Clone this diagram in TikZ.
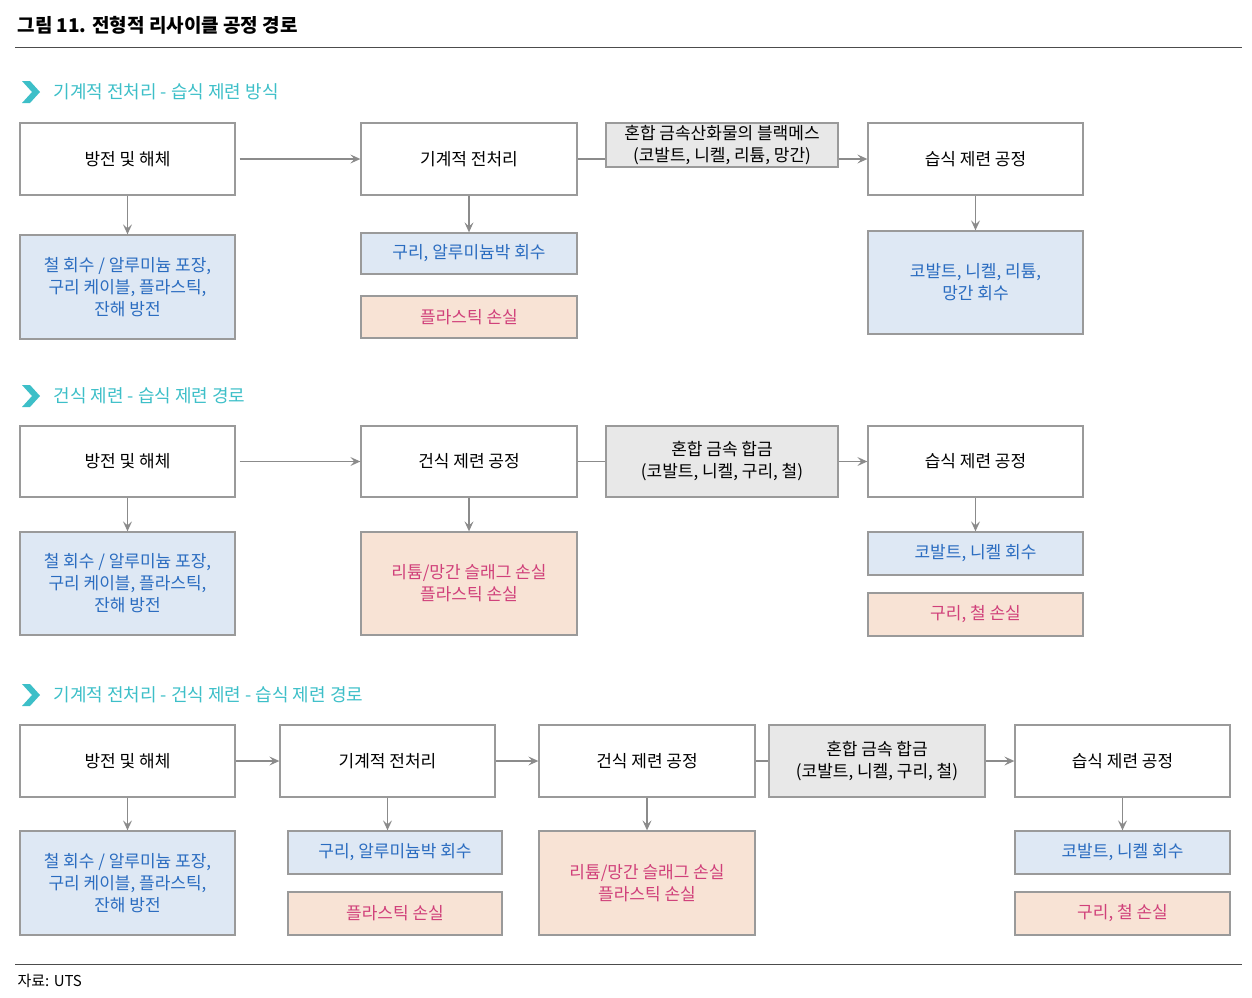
\documentclass[tikz,border=0pt]{standalone}
\usepackage{fontspec}
\setmainfont{Noto Sans CJK KR}
\usetikzlibrary{arrows.meta}
\definecolor{bfill}{HTML}{DEE8F4}
\definecolor{btxt}{HTML}{2A6CC0}
\definecolor{pfill}{HTML}{F8E3D5}
\definecolor{ptxt}{HTML}{D0407A}
\definecolor{gfill}{HTML}{E8E8E8}
\definecolor{bord}{HTML}{9A9A9A}
\definecolor{teal}{HTML}{3DBFC8}
\newcommand\bx[7]{\node[#5,name=#6,minimum width={(#3-#1)*1pt},minimum height={(#4-#2)*1pt}] at ({(#1+#3)/2},{(#2+#4)/2}) {#7};}
\begin{document}
\begin{tikzpicture}[x=1pt,y=-1pt,
 base/.style={draw=bord,line width=1.3pt,inner sep=1pt,align=center,font=\fontsize{17}{22}\selectfont},
 wbox/.style={base,fill=white,text=black},
 gbox/.style={base,fill=gfill,text=black},
 blbox/.style={base,fill=bfill,text=btxt},
 pkbox/.style={base,fill=pfill,text=ptxt},
 con/.style={draw=bord!90!black,line width=1.3pt},
 arr/.style={con,-{Stealth[length=10pt,width=9pt,inset=4pt]}},
 head/.style={text=teal,anchor=west,font=\fontsize{18}{22}\selectfont}]
\useasboundingbox (0,0) rectangle (1252,997);
\node[anchor=west,font=\fontsize{19}{22}\selectfont\bfseries] (title) at (14,25) {그림 11. 전형적 리사이클 공정 경로};
\draw[line width=0.8pt,black!70] (15,47) -- (1242,47);
\draw[line width=0.8pt,black!70] (15,964) -- (1242,964);
\node[anchor=west,font=\fontsize{15}{18}\selectfont] (src) at (14,981) {자료: UTS};
\foreach \yy in {92,396,695}{\fill[teal] (22,\yy-11) -- (30,\yy-11) -- (40,\yy) -- (30,\yy+11) -- (22,\yy+11) -- (32,\yy) -- cycle;}
\node[head] (h1) at (50,92) {기계적 전처리 - 습식 제련 방식};
\node[head] (h2) at (50,396) {건식 제련 - 습식 제련 경로};
\node[head] (h3) at (50,695) {기계적 전처리 - 건식 제련 - 습식 제련 경로};
% section 1
\bx{20}{123}{235}{195}{wbox}{a1}{방전 및 해체}
\bx{361}{123}{577}{195}{wbox}{b1}{기계적 전처리}
\bx{606}{123}{838}{167}{gbox}{g1}{혼합 금속산화물의 블랙메스\\(코발트, 니켈, 리튬, 망간)}
\bx{868}{123}{1083}{195}{wbox}{c1}{습식 제련 공정}
\bx{20}{235}{235}{339}{blbox}{a1r}{철 회수 / 알루미늄 포장,\\구리 케이블, 플라스틱,\\잔해 방전}
\bx{361}{233}{577}{274}{blbox}{b1r}{구리, 알루미늄박 회수}
\bx{361}{296}{577}{338}{pkbox}{b1l}{플라스틱 손실}
\bx{868}{231}{1083}{334}{blbox}{c1r}{코발트, 니켈, 리튬,\\망간 회수}
\draw[arr] ([xshift=4pt]a1.east) -- (b1.west);
\draw[con] (b1.east) -- (g1.west|-b1.east);
\draw[arr] (g1.east|-c1.west) -- (c1.west);
\draw[arr] (a1) -- (a1r); \draw[arr] (b1) -- (b1r); \draw[arr] (c1) -- (c1r);
% section 2
\bx{20}{426}{235}{497}{wbox}{a2}{방전 및 해체}
\bx{361}{426}{577}{497}{wbox}{b2}{건식 제련 공정}
\bx{606}{426}{838}{497}{gbox}{g2}{혼합 금속 합금\\(코발트, 니켈, 구리, 철)}
\bx{868}{426}{1083}{497}{wbox}{c2}{습식 제련 공정}
\bx{20}{532}{235}{635}{blbox}{a2r}{철 회수 / 알루미늄 포장,\\구리 케이블, 플라스틱,\\잔해 방전}
\bx{361}{532}{577}{635}{pkbox}{b2r}{리튬/망간 슬래그 손실\\플라스틱 손실}
\bx{868}{532}{1083}{575}{blbox}{c2r}{코발트, 니켈 회수}
\bx{868}{593}{1083}{636}{pkbox}{c2l}{구리, 철 손실}
\draw[arr] ([xshift=4pt]a2.east) -- (b2.west);
\draw[con] (b2.east) -- (g2.west);
\draw[arr] (g2.east) -- (c2.west);
\draw[arr] (a2) -- (a2r); \draw[arr] (b2) -- (b2r); \draw[arr] (c2) -- (c2r);
% section 3
\bx{20}{725}{235}{797}{wbox}{a3}{방전 및 해체}
\bx{280}{725}{495}{797}{wbox}{b3}{기계적 전처리}
\bx{539}{725}{755}{797}{wbox}{c3}{건식 제련 공정}
\bx{769}{725}{985}{797}{gbox}{g3}{혼합 금속 합금\\(코발트, 니켈, 구리, 철)}
\bx{1015}{725}{1230}{797}{wbox}{d3}{습식 제련 공정}
\bx{20}{831}{235}{935}{blbox}{a3r}{철 회수 / 알루미늄 포장,\\구리 케이블, 플라스틱,\\잔해 방전}
\bx{288}{831}{502}{874}{blbox}{b3r}{구리, 알루미늄박 회수}
\bx{288}{892}{502}{935}{pkbox}{b3l}{플라스틱 손실}
\bx{539}{831}{755}{935}{pkbox}{c3r}{리튬/망간 슬래그 손실\\플라스틱 손실}
\bx{1015}{831}{1230}{874}{blbox}{d3r}{코발트, 니켈 회수}
\bx{1015}{892}{1230}{935}{pkbox}{d3l}{구리, 철 손실}
\draw[arr] (a3.east) -- (b3.west);
\draw[arr] (b3.east) -- (c3.west);
\draw[con] (c3.east) -- (g3.west);
\draw[arr] (g3.east) -- (d3.west);
\draw[arr] (a3) -- (a3r); \draw[arr] (b3.south) -- (b3.south|-b3r.north); \draw[arr] (c3) -- (c3r); \draw[arr] (d3) -- (d3r);
\end{tikzpicture}
\end{document}
